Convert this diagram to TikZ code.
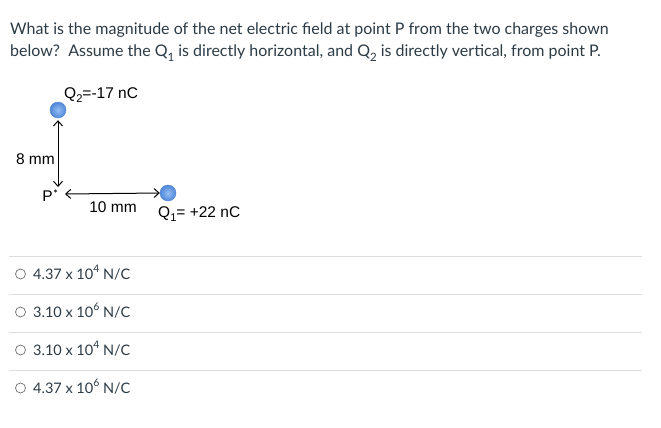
\documentclass[tikz,border=0pt]{standalone}
\usepackage{fontspec}
\setmainfont{Lato}
\newfontfamily\arialf{Liberation Sans}
\usetikzlibrary{arrows.meta}
\definecolor{txt}{RGB}{45,59,69}
\definecolor{sep}{RGB}{220,222,224}
\definecolor{radio}{RGB}{110,110,110}
\definecolor{ballout}{RGB}{80,135,215}
\definecolor{ballin}{RGB}{150,190,245}
\newcommand\mysub[1]{\raisebox{-0.28em}{\scalebox{0.72}{#1}}}
\newcommand\mysup[1]{\raisebox{0.42em}{\scalebox{0.72}{#1}}}
\begin{document}
\begin{tikzpicture}[x=1pt,y=-1pt,
  qtext/.style={anchor=base west,inner sep=0pt,text=txt,font=\fontsize{16}{18}\selectfont},
  dtext/.style={inner sep=0pt,text=black,font=\arialf\fontsize{15.5}{17}\selectfont},
  otext/.style={anchor=base west,inner sep=0pt,text=txt,font=\fontsize{14.5}{16}\selectfont},
  charge/.style={circle,minimum size=16pt,inner sep=0pt,draw=ballout,line width=0.4pt,inner color=ballin,outer color=ballout},
  dim/.style={line width=1pt,{Straight Barb[length=5pt,width=9pt]}-{Straight Barb[length=5pt,width=9pt]}},
  sepline/.style={draw=sep,line width=1pt},
  radiob/.style={circle,draw=radio,line width=0.7pt,minimum size=10pt,inner sep=0pt}]
\useasboundingbox[fill=white] (0,0) rectangle (661,428);
% question
\node[qtext] (l1) at (10,35) {What is the magnitude of the net electric field at point P from the two charges shown};
\node[qtext] (l2) at (10,57) {below?\ \ Assume the Q\mysub{1} is directly horizontal, and Q\mysub{2} is directly vertical, from point P.};
% diagram
\node[charge] (q2) at (58,110) {};
\node[charge] (q1) at (168,193) {};
\node[dtext,anchor=west] (q2l) at (64,95) {Q\mysub{2}=-17 nC};
\node[dtext,anchor=west] (q1l) at (158,214) {Q\mysub{1}= +22 nC};
\node[dtext,anchor=east] (p) at (53,196) {P};
\fill[black!80] (55.5,191) circle (1.7pt);
\coordinate (pv) at (58,187);
\coordinate (ph) at (65,194);
\draw[dim] (q2.south) ++(0,2) -- (pv);
\draw[dim] (ph) -- (q1.west);
\node[dtext,anchor=east] (d8) at (55,159) {8 mm};
\node[dtext] (d10) at (113,207) {10 mm};
% options
\foreach \y in {256,294,332,370} \draw[sepline] (9,\y) -- (642,\y);
\node[radiob] (r1) at (20.5,274) {};
\node[radiob] (r2) at (20.5,312) {};
\node[radiob] (r3) at (20.5,350) {};
\node[radiob] (r4) at (20.5,388) {};
\node[otext] (o1) at (33,279) {4.37 x 10\mysup{4} N/C};
\node[otext] (o2) at (33,317) {3.10 x 10\mysup{6} N/C};
\node[otext] (o3) at (33,355) {3.10 x 10\mysup{4} N/C};
\node[otext] (o4) at (33,393) {4.37 x 10\mysup{6} N/C};
\end{tikzpicture}
\end{document}
